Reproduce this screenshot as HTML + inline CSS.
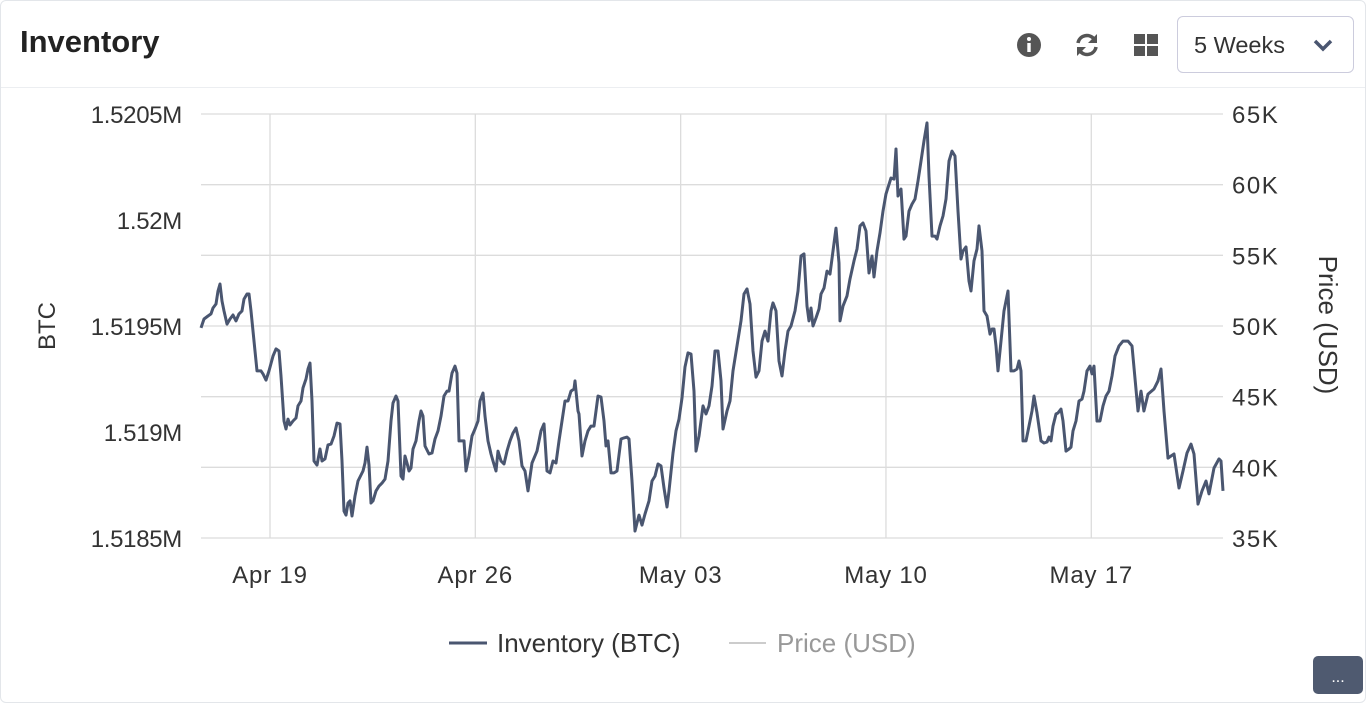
<!DOCTYPE html>
<html><head><meta charset="utf-8"><style>
body{margin:0;background:#fff;font-family:"Liberation Sans",sans-serif;}
#card{position:absolute;left:0;top:0;width:1364px;height:701px;border:1px solid #e3e6ea;border-radius:6px;background:#fff;overflow:hidden}
#hdr{position:absolute;left:0;top:0;width:1364px;height:86px;border-bottom:1px solid #eceef1}
#title{position:absolute;left:19px;top:23px;font-size:31px;font-weight:bold;color:#222}
.ic{position:absolute;top:30px;width:28px;height:28px}
#dd{position:absolute;left:1176px;top:15px;width:177px;height:57px;border:1px solid #ccd;border-radius:6px;box-sizing:border-box}
#dd span{position:absolute;left:16px;top:15px;font-size:23.5px;color:#333}
#more{position:absolute;left:1312px;top:655px;width:50px;height:38px;background:#4f5a70;border-radius:5px;color:#fff;font-size:16px;text-align:center;line-height:44px}
</style></head><body>
<div id="card">
<div id="hdr">
<div id="title">Inventory</div>
<svg class="ic" style="left:1014px" viewBox="0 0 28 28"><circle cx="14" cy="14" r="12" fill="#555"/><rect x="12.3" y="12" width="3.4" height="9" fill="#fff"/><circle cx="14" cy="8" r="2" fill="#fff"/></svg>
<svg class="ic" style="left:1072px" viewBox="0 0 28 28"><path d="M5 12a9 9 0 0 1 16-4" stroke="#555" stroke-width="3.5" fill="none"/><path d="M23 16a9 9 0 0 1-16 4" stroke="#555" stroke-width="3.5" fill="none"/><polygon points="24,3 24,12 15,12" fill="#555"/><polygon points="4,25 4,16 13,16" fill="#555"/></svg>
<svg class="ic" style="left:1131px" viewBox="0 0 28 28"><rect x="2" y="3" width="11" height="10" fill="#555"/><rect x="15" y="3" width="11" height="10" fill="#555"/><rect x="2" y="15" width="11" height="10" fill="#555"/><rect x="15" y="15" width="11" height="10" fill="#555"/></svg>
<div id="dd"><span>5 Weeks</span><svg style="position:absolute;left:134px;top:20px" width="22" height="16" viewBox="0 0 22 16"><path d="M3 4l8 8 8-8" stroke="#4a5670" stroke-width="3.5" fill="none"/></svg></div>
</div>
<svg id="chart" width="1366" height="703" style="position:absolute;left:-1px;top:-1px"></svg>
<div id="more">...</div>
</div>
<script>
const times=[-2.352,-2.250,-2.114,-2.011,-1.943,-1.841,-1.773,-1.705,-1.636,-1.568,-1.466,-1.364,-1.261,-1.159,-1.057,-0.955,-0.886,-0.784,-0.716,-0.648,-0.511,-0.443,-0.307,-0.239,-0.136,-0.034,0.102,0.205,0.307,0.375,0.477,0.545,0.614,0.682,0.784,0.886,0.955,1.057,1.125,1.227,1.295,1.364,1.432,1.500,1.602,1.705,1.773,1.875,1.977,2.080,2.182,2.284,2.386,2.454,2.523,2.591,2.659,2.727,2.795,2.898,3.000,3.102,3.170,3.239,3.307,3.375,3.443,3.511,3.614,3.716,3.818,3.920,4.023,4.125,4.193,4.295,4.364,4.466,4.534,4.602,4.670,4.739,4.807,4.875,4.977,5.080,5.148,5.216,5.284,5.420,5.523,5.625,5.727,5.830,5.932,6.034,6.102,6.205,6.307,6.375,6.443,6.545,6.614,6.682,6.784,6.886,6.989,7.091,7.159,7.261,7.330,7.432,7.534,7.602,7.705,7.773,7.875,7.977,8.080,8.182,8.284,8.386,8.489,8.591,8.693,8.795,8.932,9.102,9.239,9.341,9.443,9.545,9.648,9.750,9.852,9.955,10.057,10.159,10.261,10.364,10.398,10.500,10.534,10.636,10.739,10.841,10.943,11.045,11.182,11.284,11.386,11.455,11.523,11.625,11.727,11.830,11.966,12.068,12.170,12.239,12.341,12.443,12.511,12.580,12.682,12.784,12.920,13.023,13.125,13.227,13.330,13.432,13.534,13.602,13.739,13.841,13.943,14.045,14.148,14.250,14.352,14.455,14.523,14.625,14.761,14.864,14.966,15.068,15.170,15.273,15.375,15.443,15.580,15.682,15.784,15.920,16.057,16.159,16.261,16.364,16.466,16.568,16.670,16.773,16.875,16.977,17.080,17.148,17.250,17.352,17.455,17.557,17.659,17.761,17.898,18.000,18.102,18.205,18.307,18.375,18.443,18.511,18.614,18.716,18.784,18.886,18.989,19.091,19.193,19.295,19.398,19.432,19.534,19.670,19.773,19.909,20.011,20.114,20.216,20.318,20.420,20.523,20.591,20.693,20.795,20.898,21.000,21.170,21.273,21.341,21.409,21.511,21.614,21.682,21.784,21.886,21.989,22.091,22.193,22.295,22.398,22.466,22.568,22.670,22.739,22.841,22.943,23.045,23.148,23.250,23.352,23.455,23.557,23.625,23.727,23.830,23.898,24.000,24.102,24.170,24.273,24.341,24.443,24.545,24.614,24.682,24.750,24.818,24.920,25.023,25.159,25.261,25.364,25.466,25.534,25.602,25.670,25.773,25.875,25.977,26.045,26.148,26.284,26.386,26.489,26.557,26.625,26.693,26.795,26.864,26.966,27.034,27.136,27.239,27.307,27.375,27.477,27.580,27.682,27.750,27.852,27.955,28.023,28.091,28.193,28.295,28.398,28.500,28.602,28.705,28.807,28.943,29.080,29.250,29.386,29.591,29.693,29.795,29.932,30.136,30.273,30.375,30.477,30.614,30.716,30.818,30.989,31.125,31.261,31.398,31.500,31.636,31.773,31.911,32.014,32.184,32.354,32.422,32.490];
const inventory=[1519491,1519533,1519547,1519557,1519585,1519604,1519665,1519698,1519618,1519571,1519509,1519533,1519552,1519524,1519557,1519571,1519627,1519651,1519651,1519571,1519382,1519288,1519288,1519274,1519245,1519288,1519358,1519392,1519382,1519264,1519052,1519014,1519061,1519033,1519052,1519066,1519123,1519146,1519208,1519250,1519297,1519325,1519146,1518863,1518844,1518920,1518863,1518873,1518939,1518943,1518981,1519042,1519038,1518863,1518627,1518608,1518665,1518675,1518604,1518698,1518769,1518797,1518816,1518854,1518929,1518844,1518665,1518675,1518722,1518745,1518759,1518778,1518863,1519052,1519137,1519170,1519146,1518792,1518778,1518887,1518854,1518816,1518830,1518920,1518958,1519052,1519099,1519075,1518934,1518896,1518901,1518967,1519005,1519075,1519170,1519193,1519193,1519278,1519311,1519278,1518958,1518958,1518958,1518816,1518887,1518981,1519014,1519052,1519146,1519184,1519075,1518958,1518896,1518863,1518816,1518910,1518863,1518849,1518910,1518958,1518995,1519019,1518958,1518840,1518816,1518722,1518854,1518910,1519005,1519038,1518816,1518807,1518863,1518854,1518958,1519052,1519146,1519146,1519193,1519203,1519241,1519099,1519085,1518887,1518958,1519005,1519028,1519028,1519170,1519165,1519052,1518934,1518958,1518807,1518807,1518816,1518967,1518972,1518976,1518967,1518769,1518533,1518571,1518608,1518561,1518613,1518675,1518769,1518792,1518849,1518840,1518736,1518646,1518722,1518901,1519005,1519061,1519160,1519307,1519373,1519368,1519193,1518910,1518981,1519123,1519085,1519123,1519217,1519382,1519382,1519241,1519014,1519099,1519146,1519288,1519406,1519524,1519651,1519675,1519604,1519382,1519259,1519288,1519429,1519476,1519429,1519571,1519609,1519571,1519335,1519264,1519382,1519476,1519500,1519571,1519665,1519830,1519840,1519594,1519524,1519585,1519500,1519538,1519580,1519651,1519679,1519759,1519745,1519854,1519962,1519797,1519524,1519594,1519642,1519722,1519807,1519863,1519972,1519986,1519948,1519750,1519830,1519731,1519854,1519939,1520042,1520123,1520198,1520193,1520335,1520113,1520146,1519910,1519924,1520042,1520075,1520099,1520184,1520278,1520373,1520458,1520208,1519924,1519924,1519910,1519972,1520019,1520099,1520278,1520325,1520302,1520042,1519816,1519854,1519873,1519712,1519665,1519807,1519863,1519972,1519854,1519571,1519547,1519462,1519486,1519486,1519406,1519288,1519429,1519571,1519665,1519288,1519288,1519297,1519335,1519288,1518958,1518958,1519028,1519099,1519170,1519090,1518958,1518948,1518953,1518976,1518958,1519028,1519085,1519090,1519108,1519052,1518910,1518920,1518929,1519005,1519052,1519146,1519155,1519193,1519288,1519311,1519274,1519311,1519052,1519052,1519123,1519170,1519193,1519264,1519358,1519406,1519429,1519429,1519406,1519099,1519193,1519099,1519179,1519203,1519241,1519297,1519099,1518877,1518887,1518896,1518736,1518816,1518901,1518943,1518896,1518660,1518722,1518769,1518708,1518830,1518873,1518863,1518722];
const leftTicks=[1518500,1519000,1519500,1520000,1520500];
const leftTickLabels=["1.5185M","1.519M","1.5195M","1.52M","1.5205M"];
const rightTicks=[35,40,45,50,55,60,65];
const rightTickLabels=["35K","40K","45K","50K","55K","60K","65K"];
const dateTicks=[0,7,14,21,28];
const dateLabels=["Apr 19","Apr 26","May 03","May 10","May 17"];

const NS="http://www.w3.org/2000/svg",svg=document.getElementById('chart');
const X0=201,X1=1223,T0=-2.352,T1=32.49,Y0=538,Y1=114;
const xs=t=>X0+(t-T0)/(T1-T0)*(X1-X0);
const yL=v=>Y0-(v-1518500)/2000*(Y0-Y1);
const yR=v=>Y0-(v-35)/30*(Y0-Y1);
function mk(tag,a){const e=document.createElementNS(NS,tag);for(const k in a)e.setAttribute(k,a[k]);svg.appendChild(e);return e;}
rightTicks.forEach((v,i)=>{
 const g=mk('line',{x1:X0,x2:X1,y1:yR(v),y2:yR(v),stroke:'#dcdcdc','stroke-width':1.3});
 
 
 const t=mk('text',{x:1232,y:yR(v)+9,'font-size':24,fill:'#333','letter-spacing':1.5});t.textContent=rightTickLabels[i];
 
 
});
dateTicks.forEach((d,i)=>{
 const g=mk('line',{x1:xs(d),x2:xs(d),y1:Y1,y2:Y0,stroke:'#dcdcdc','stroke-width':1.3});
 
 
 const t=mk('text',{x:xs(d),y:583,'font-size':24,fill:'#333','text-anchor':'middle','letter-spacing':0.8});t.textContent=dateLabels[i];
 
 
});
leftTicks.forEach((v,i)=>{
 const t=mk('text',{x:182,y:yL(v)+9,'font-size':24,fill:'#333','text-anchor':'end','letter-spacing':-0.3});t.textContent=leftTickLabels[i];
 
 
});
let d='';times.forEach((t,i)=>{d+=(i?'L':'M')+xs(t).toFixed(1)+' '+yL(inventory[i]).toFixed(1);});
const p=mk('path',{d:d,fill:'none',stroke:'#4a5670','stroke-width':3,'stroke-linejoin':'round'});


const yt=mk('text',{x:0,y:0,'font-size':24,fill:'#333','text-anchor':'middle',transform:'translate(55,326) rotate(-90)'});yt.textContent='BTC';


const yt2=mk('text',{x:0,y:0,'font-size':26,fill:'#333','text-anchor':'middle',transform:'translate(1319,325) rotate(90)'});yt2.textContent='Price (USD)';


const l1=mk('line',{x1:449,x2:487,y1:643,y2:643,stroke:'#4a5670','stroke-width':3});


const lt1=mk('text',{x:497,y:652,'font-size':26,fill:'#333'});lt1.textContent='Inventory (BTC)';


const l2=mk('line',{x1:729,x2:766,y1:643,y2:643,stroke:'#bbb','stroke-width':1.5});


const lt2=mk('text',{x:777,y:652,'font-size':26,fill:'#999'});lt2.textContent='Price (USD)';


</script>
</body></html>
